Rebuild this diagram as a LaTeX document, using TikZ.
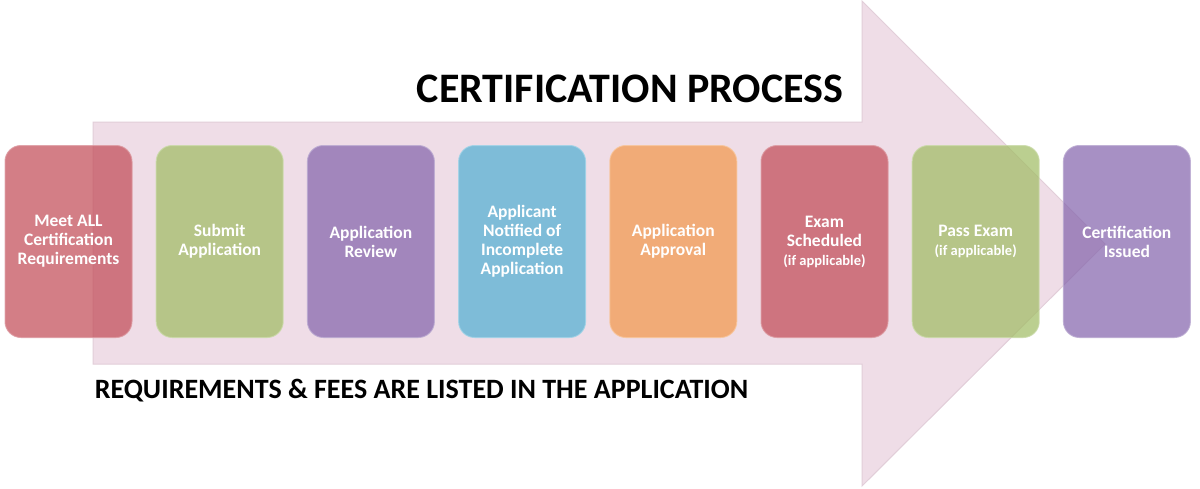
\documentclass[tikz,border=0pt]{standalone}
\usepackage{fontspec}
\setmainfont{Carlito}
\definecolor{arrowfill}{RGB}{239,221,231}
\definecolor{arrowline}{RGB}{226,206,217}
\definecolor{cred}{RGB}{193,72,84}
\definecolor{cgreen}{RGB}{159,188,97}
\definecolor{cpurple}{RGB}{130,98,171}
\definecolor{cblue}{RGB}{79,175,211}
\definecolor{corange}{RGB}{243,150,72}
\tikzset{
  stepbox/.style={rectangle, rounded corners=16pt, minimum width=127pt, minimum height=192pt,
    fill=#1, fill opacity=0.7, draw=#1!55!white, draw opacity=0.8, line width=1pt,
    text=white, text opacity=1, align=center, inner sep=2pt,
    font=\fontsize{17.5}{19}\selectfont\bfseries},
  bigtitle/.style={font=\fontsize{42}{48}\selectfont\bfseries, text=black, inner sep=0pt},
  subtitle/.style={font=\fontsize{28}{34}\selectfont\bfseries, text=black, inner sep=0pt}
}
\newcommand{\ifapp}{{\fontsize{14.5}{19}\selectfont (if applicable)}}
\begin{document}
\begin{tikzpicture}[x=1pt,y=-1pt]
\useasboundingbox (0,0) rectangle (1200,488);
\fill[white] (0,0) rectangle (1200,488);
% big arrow
\filldraw[fill=arrowfill, draw=arrowline, line width=1pt]
  (93,122) -- (862,122) -- (862,1) -- (1105,244) -- (862,486) -- (862,364) -- (93,364) -- cycle;
% boxes
\node[stepbox=cred]    (b1) at (68.5,241.5)  {Meet ALL\\Certification\\Requirements};
\node[stepbox=cgreen]  (b2) at (219.7,241.5) {Submit\\Application};
\node[stepbox=cpurple] (b3) at (370.9,241.5) {Application\\Review};
\node[stepbox=cblue]   (b4) at (522.1,241.5) {Applicant\\Notified of\\Incomplete\\Application};
\node[stepbox=corange] (b5) at (673.3,241.5) {Application\\Approval};
\node[stepbox=cred]    (b6) at (824.5,241.5) {Exam\\Scheduled\\\ifapp};
\node[stepbox=cgreen]  (b7) at (975.7,241.5) {Pass Exam\\\ifapp};
\node[stepbox=cpurple] (b8) at (1126.9,241.5) {Certification\\Issued};
% texts
\node[bigtitle, anchor=base] (title) at (630,102) {CERTIFICATION PROCESS};
\node[subtitle, anchor=base] (note) at (421.5,398) {REQUIREMENTS \& FEES ARE LISTED IN THE APPLICATION};
\end{tikzpicture}
\end{document}
